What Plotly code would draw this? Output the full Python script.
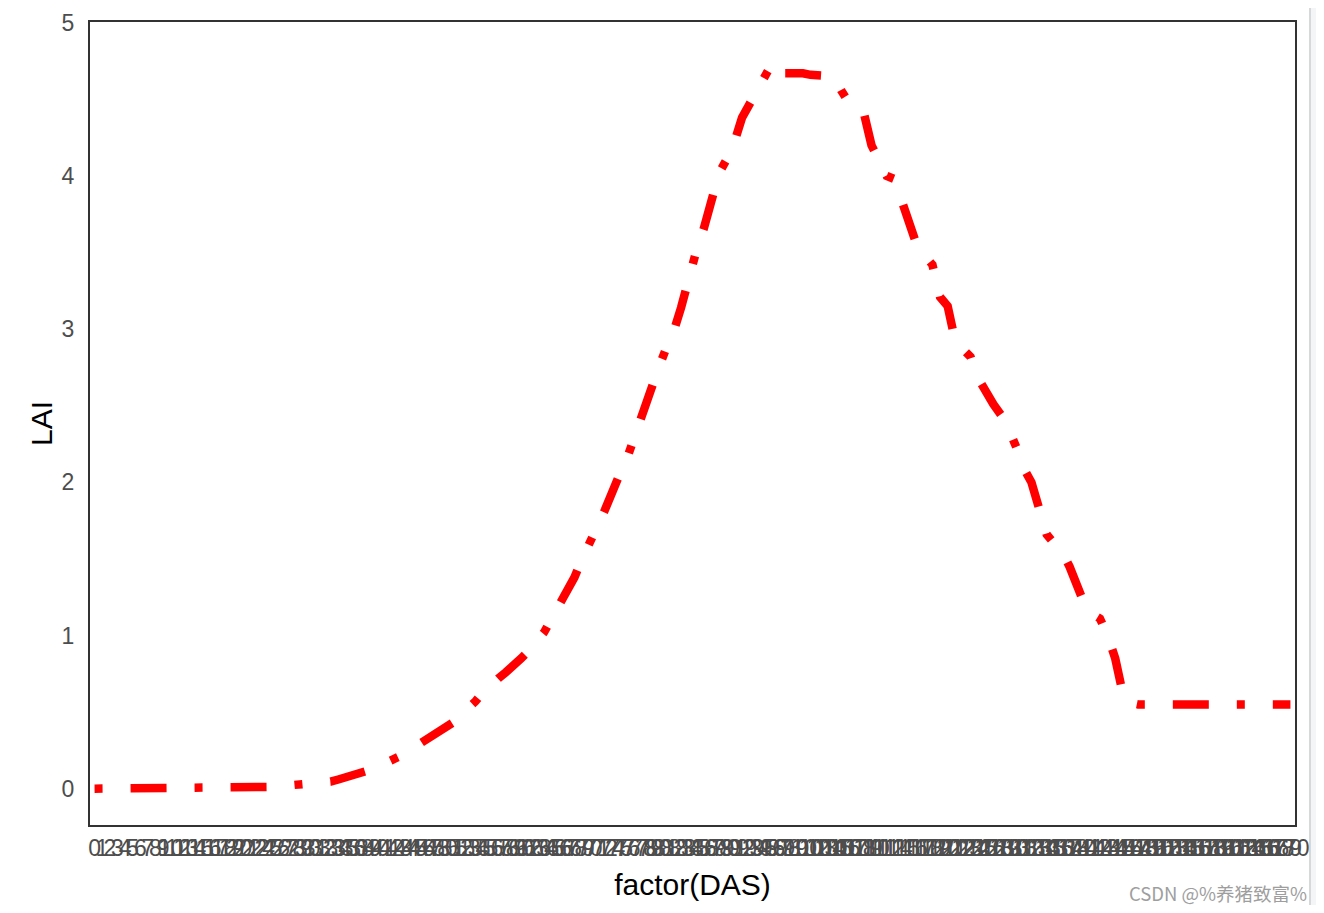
import plotly.graph_objects as go

# ---- data ----
missing_das = [11, 23, 37, 49, 61, 73, 89, 101, 113, 127, 139, 151, 163]
das = [d for d in range(0, 171) if d not in missing_das]
das_labels = [str(d) for d in das]

lai = [
    0.0, 0.0, 0.0, 0.0, 0.0, 0.0, 0.0, 0.0, 0.0, 0.0,
    0.0, 0.0, 0.0, 0.0, 0.0, 0.0, 0.0, 0.0, 0.0, 0.0,
    0.005, 0.007, 0.01, 0.012, 0.015, 0.018, 0.02, 0.024, 0.028, 0.033,
    0.038, 0.046, 0.06, 0.072, 0.085, 0.10, 0.12, 0.14, 0.16, 0.18,
    0.21, 0.24, 0.27, 0.30, 0.34, 0.36, 0.39, 0.43, 0.48, 0.52,
    0.57, 0.63, 0.68, 0.72, 0.76, 0.80, 0.85, 0.90, 0.96, 1.02,
    1.11, 1.20, 1.29, 1.38, 1.50, 1.62, 1.71, 1.82, 1.95, 2.06,
    2.17, 2.32, 2.44, 2.58, 2.74, 2.87, 2.98, 3.14, 3.34, 3.51,
    3.66, 3.83, 4.02, 4.11, 4.22, 4.38, 4.47, 4.55, 4.63, 4.74,
    4.67, 4.67, 4.68, 4.67, 4.66, 4.66, 4.66, 4.65, 4.56, 4.48,
    4.45, 4.41, 4.20, 4.09, 4.00, 3.98, 3.82, 3.66, 3.54, 3.48,
    3.42, 3.21, 3.15, 2.92, 2.87, 2.82, 2.68, 2.58, 2.51, 2.44,
    2.35, 2.23, 2.09, 2.00, 1.85, 1.66, 1.60, 1.55, 1.45, 1.33,
    1.20, 1.14, 1.11, 1.00, 0.85, 0.62, 0.56, 0.55, 0.55, 0.55,
    0.55, 0.55, 0.55, 0.55, 0.55, 0.55, 0.55, 0.55, 0.55, 0.55,
    0.55, 0.55, 0.55, 0.55, 0.55, 0.55, 0.55, 0.55,
]
y_ticks = [0, 1, 2, 3, 4, 5]

# the page body has an 8px margin, so the figure is placed at (8, 8)
OFF = 8
W, H = 1308, 897
L, T = 90 - OFF, 22 - OFF
R = W - (1295 - OFF)
B = H - (825 - OFF)
pw, ph = W - L - R, H - T - B

def px2paper(x, y):
    # page pixel -> paper coordinate
    x -= OFF
    y -= OFF
    return (x - L) / pw, (H - B - y) / ph

fig = go.Figure()
fig.add_trace(go.Scatter(
    x=das_labels, y=lai, mode="lines",
    line=dict(color="#FF0000", width=8.5, dash="8px,28px,36px,28px"),
    showlegend=False, hoverinfo="x+y",
))

font_family = "Liberation Sans, Arial, sans-serif"

shapes = []
def rect(x0, y0, x1, y1, fill):
    a0 = px2paper(x0, y1)
    a1 = px2paper(x1, y0)
    shapes.append(dict(type="rect", xref="paper", yref="paper",
                       x0=a0[0], y0=a0[1], x1=a1[0], y1=a1[1],
                       fillcolor=fill, line=dict(width=0), layer="below"))

rect(1311, 8, 1316, 905, "#F3F5F6")
rect(1309, 8, 1311, 905, "#D6D8DA")

wm = px2paper(1309, 893)

fig.update_layout(
    width=W, height=H,
    margin=dict(l=L, r=R, t=T, b=B, autoexpand=False),
    paper_bgcolor="white", plot_bgcolor="white",
    font=dict(family=font_family),
    shapes=shapes,
    xaxis=dict(
        type="category",
        categoryorder="array", categoryarray=das_labels,
        tickmode="array", tickvals=das_labels, ticktext=das_labels,
        tickangle=0,
        range=[-0.6, len(das_labels) - 1 + 0.6],
        showgrid=False, zeroline=False,
        showline=True, mirror=True, linecolor="#333333", linewidth=2,
        ticks="", ticklabelstandoff=1,
        tickfont=dict(size=23, color="#4D4D4D", family=font_family),
        title=dict(text="factor(DAS)", font=dict(size=30, color="black", family=font_family),
                   standoff=14),
        automargin=False,
    ),
    yaxis=dict(
        range=[-0.237, 5.005],
        tickmode="array", tickvals=y_ticks, ticktext=[str(v) for v in y_ticks],
        showgrid=False, zeroline=False,
        showline=True, mirror=True, linecolor="#333333", linewidth=2,
        ticks="", ticklabelstandoff=9,
        tickfont=dict(size=23, color="#4D4D4D", family=font_family),
        title=dict(text="LAI", font=dict(size=30, color="black", family=font_family),
                   standoff=0),
        automargin=False,
    ),
    annotations=[dict(
        text="CSDN @%养猪致富%", xref="paper", yref="paper",
        x=wm[0], y=wm[1],
        xanchor="right", yanchor="middle", showarrow=False,
        font=dict(size=18.5, color="#9E9E9E", family="Noto Sans CJK SC, Liberation Sans"),
    )],
)

fig.write_html("out.html")
